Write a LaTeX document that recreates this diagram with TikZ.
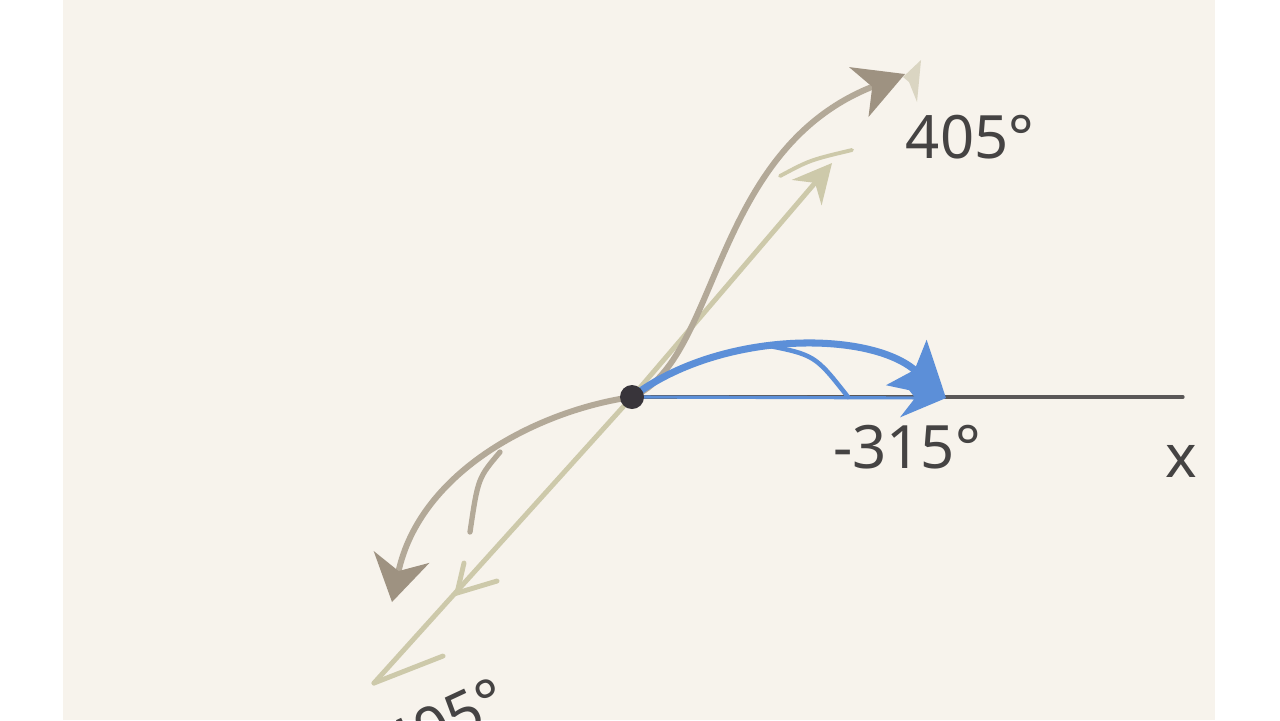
\documentclass[tikz,border=0pt]{standalone}
\usepackage{fontspec}
\setmainfont{Noto Sans}
\usetikzlibrary{arrows.meta}
\definecolor{bgpanel}{HTML}{F7F3EC}
\definecolor{olivec}{HTML}{CDC9AA}
\definecolor{olivelight}{HTML}{DAD5C2}
\definecolor{brownline}{HTML}{B3A998}
\definecolor{brownhead}{HTML}{9E9281}
\definecolor{bluec}{HTML}{5C8FD8}
\definecolor{axisgray}{HTML}{5A5757}
\definecolor{txtc}{HTML}{454343}
\definecolor{dotc}{HTML}{38343A}
\begin{document}
\begin{tikzpicture}[x=0.01cm,y=-0.01cm,
  lbl/.style={text=txtc,font=\fontsize{17}{20}\selectfont,inner sep=0pt},
  oliveln/.style={draw=olivec,line width=1.4pt,line cap=round},
  brownln/.style={draw=brownline,line width=1.7pt,line cap=round},
  blueln/.style={draw=bluec,line cap=round},
  axisln/.style={draw=axisgray,line width=0.9pt,line cap=round}]
\useasboundingbox (0,0) rectangle (1280,720);
\fill[white] (0,0) rectangle (1280,720);
\fill[bgpanel] (63,0) rectangle (1215,720);

% named points
\coordinate (O) at (632,397);
\coordinate (urTip) at (832,163);
\coordinate (llEnd) at (374,683);
\coordinate (llMid) at (457,593);
\coordinate (ubrTip) at (905,74);
\coordinate (lbrTip) at (392,602);
\coordinate (blueTip) at (946,398);
\coordinate (axEnd) at (1183,397);
\coordinate (brA) at (780,176);
\coordinate (brB) at (852,150);
\coordinate (lbA) at (500,452);
\coordinate (lbB) at (470,532);
\coordinate (ibA) at (765,345);
\coordinate (ibB) at (848,397);

% axis
\draw[axisln] (O) -- (axEnd);

% olive straight line (405 / -405 ray)
\draw[oliveln,-{Stealth[length=11pt,width=11pt]}] (O) -- (urTip);
\draw[oliveln] (O) -- (llEnd);
\draw[oliveln] (llEnd) -- (443,656);
\draw[oliveln] (497,581) -- (llMid) -- (464,563);
\draw[oliveln,line width=1.1pt] (brA) .. controls (810,160) .. (brB);
\fill[olivelight] (903,77) -- (921,60) -- (917,102) -- (909,82) -- cycle;

% brown curves
\draw[brownln,-{Stealth[length=14pt,width=15pt,inset=4pt,color=brownhead,fill=brownhead]}]
  (O) .. controls (720,360) and (710,150) .. (ubrTip);
\draw[brownln,-{Stealth[length=13pt,width=16pt,inset=4pt,color=brownhead,fill=brownhead]}]
  (O) .. controls (540,410) and (420,470) .. (lbrTip);
\draw[brownln,line width=1.5pt] (lbA) .. controls (478,478) .. (lbB);

% blue arrows
\draw[blueln,line width=0.9pt,-{Stealth[length=13pt,width=11pt]}] (O) -- (blueTip);
\draw[blueln,line width=2pt,-{Stealth[length=15pt,width=17pt,inset=3pt]}]
  (O) .. controls (720,330) and (870,330) .. (blueTip);
\draw[blueln,line width=1.3pt] (ibA) .. controls (815,355) .. (ibB);

% origin dot
\node[circle,fill=dotc,minimum size=0.24cm,inner sep=0pt] (dot) at (O) {};

% labels
\node[lbl] (l405) at (970,137) {405°};
\node[lbl] (l315) at (907,447) {-315°};
\node[lbl] (lx) at (1181,461) {x};
\node[lbl,rotate=25] (lm405) at (445,722) {405°};
\end{tikzpicture}
\end{document}
